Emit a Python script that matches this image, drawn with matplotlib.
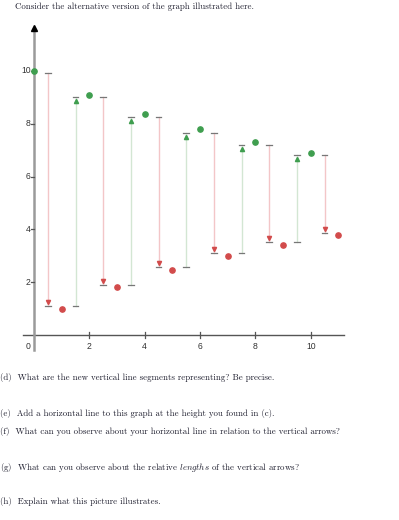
import matplotlib
matplotlib.use("Agg")
import matplotlib.pyplot as plt
import numpy as np

plt.rcParams['axes.formatter.use_mathtext'] = True
plt.rcParams['mathtext.fontset'] = 'cm'

# ---- data ----
green_x = [0, 2, 4, 6, 8, 10]
green_y = [10.0, 9.1, 8.37, 7.79, 7.3, 6.9]
red_x = [1, 3, 5, 7, 9, 11]
red_y = [1.0, 1.8, 2.46, 3.0, 3.42, 3.78]
seg_x = [0.5, 1.5, 2.5, 3.5, 4.5, 5.5, 6.5, 7.5, 8.5, 9.5, 10.5]
levels = [9.92, 1.11, 9.0, 1.9, 8.27, 2.56, 7.66, 3.1, 7.2, 3.53, 6.8, 3.87]
xticks = [2, 4, 6, 8, 10]
yticks = [2, 4, 6, 8, 10]

title = "Consider the alternative version of the graph illustrated here."
questions = [
    "(d)  What are the new vertical line segments representing? Be precise.",
    "(e)  Add a horizontal line to this graph at the height you found in (c).",
    "(f)  What can you observe about your horizontal line in relation to the vertical arrows?",
    "(g)  What can you observe about the relative $\\mathit{lengths}$ of the vertical arrows?",
    "(h)  Explain what this picture illustrates.",
]
q_y = [378, 414, 431, 467, 502]

GREEN = "#3f9e4f"
RED = "#d24b4b"
LGREEN = "#d3e6d3"
LRED = "#f3c6c8"
CAP = "#777777"
TXT = "#1e1e2e"

W, H = 399, 520
fig = plt.figure(figsize=(W / 100, H / 100), dpi=100)

# axes placed in pixel coordinates
px_left, px_right, px_top, px_bot = 10, 360, 20, 355
ax = fig.add_axes([px_left / W, (H - px_bot) / H, (px_right - px_left) / W, (px_bot - px_top) / H])
x0 = 34.0; sx = 27.675
y0 = 335.0; sy = 26.41
ax.set_xlim((px_left - x0) / sx, (px_right - x0) / sx)
ax.set_ylim((y0 - px_bot) / sy, (y0 - px_top) / sy)
ax.axis('off')

# axes lines
ax.plot([-0.4, 11.2], [0, 0], color="#555555", lw=1.0, zorder=2)
ax.plot([0, 0], [-0.55, 11.55], color="#9a9a9a", lw=1.8, zorder=2)
ax.plot([0], [11.62], marker='^', color='black', markersize=4.5, zorder=3)

for t in xticks:
    ax.plot([t, t], [-0.1, 0.1], color="#555555", lw=0.9)
    ax.text(t, -0.25, str(t), ha='center', va='top', fontsize=6.2, color='#333333',
            family='Liberation Sans')
ax.text(-0.22, -0.25, "0", ha='center', va='top', fontsize=6.2, color='#333333',
        family='Liberation Sans')
for t in yticks:
    ax.plot([-0.1, 0], [t, t], color="#555555", lw=0.9)
    ax.text(-0.12, t, str(t), ha='right', va='center', fontsize=6.2, color='#333333',
            family='Liberation Sans')

# segments
cap_w = 0.1
for i, xs in enumerate(seg_x):
    a, b = levels[i], levels[i + 1]
    down = b < a
    lc = LRED if down else LGREEN
    mc = RED if down else GREEN
    ax.plot([xs, xs], [a, b], color=lc, lw=1.0, zorder=1)
    for v in (a, b):
        ax.plot([xs - cap_w, xs + cap_w], [v, v], color=CAP, lw=0.9, zorder=2)
    if down:
        ax.plot([xs], [b + 0.15], marker='v', color=mc, markersize=3.0, zorder=3)
    else:
        ax.plot([xs], [b - 0.15], marker='^', color=mc, markersize=3.0, zorder=3)

ax.plot(green_x, green_y, 'o', color=GREEN, markersize=3.8, zorder=4, clip_on=False)
ax.plot(red_x, red_y, 'o', color=RED, markersize=3.8, zorder=4, clip_on=False)

# texts
fig.text(15 / W, 1 - 7 / H, title, ha='left', va='center', fontsize=6.4,
         family='cmr10', color=TXT)
for q, yy in zip(questions, q_y):
    fig.text(0.5 / W, 1 - yy / H, q, ha='left', va='center', fontsize=6.4,
             family='cmr10', color=TXT)

fig.savefig("out.png", dpi=100)
